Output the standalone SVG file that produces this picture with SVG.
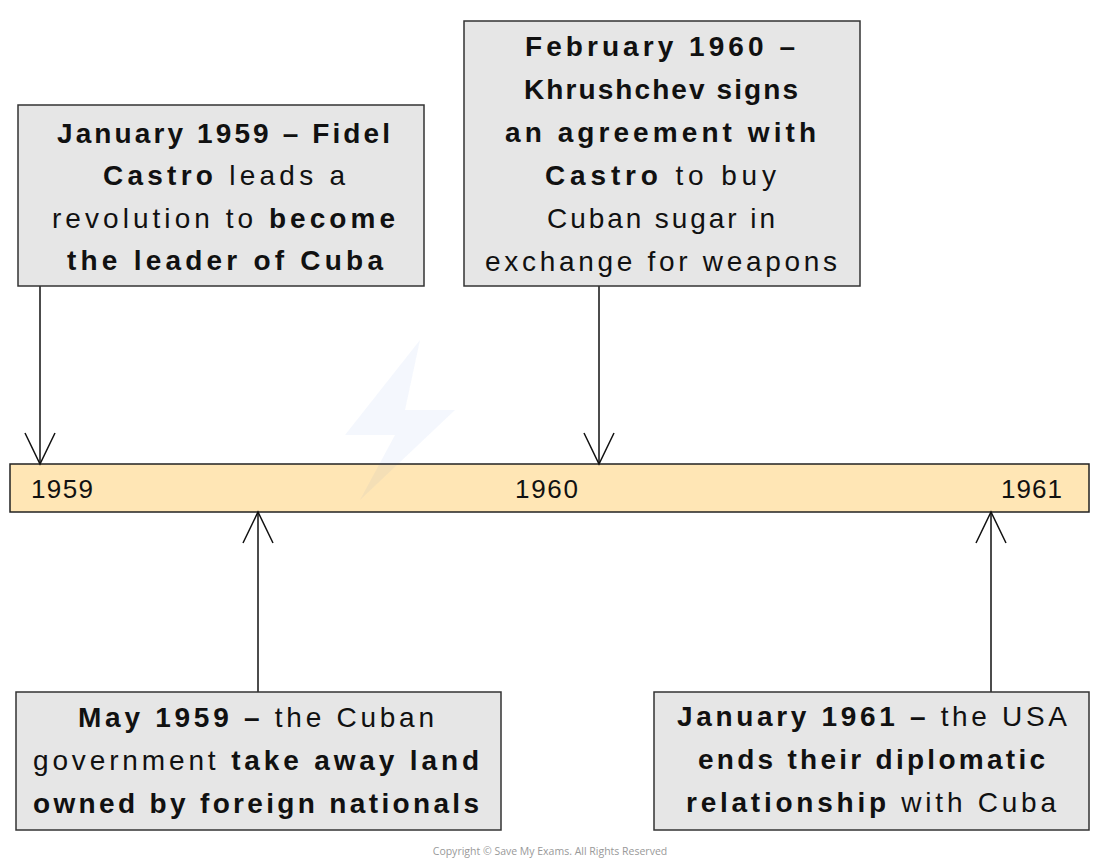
<svg xmlns="http://www.w3.org/2000/svg" width="1100" height="868" viewBox="0 0 1100 868">
<style>
.box{fill:#e6e6e6;stroke:#333;stroke-width:1.5}
.t{font-family:"Liberation Sans",Arial,sans-serif;font-size:28px;fill:#111}
.b{font-weight:bold}
.yr{font-family:"Liberation Sans",Arial,sans-serif;font-size:26px;fill:#111}
.conn{stroke:#111;stroke-width:1.5;fill:none}
</style>
<defs>
<marker id="arr" viewBox="0 0 40 40" markerWidth="40" markerHeight="40" refX="36" refY="20" orient="auto" markerUnits="userSpaceOnUse">
<path d="M5,5 L36,20 L5,35" fill="none" stroke="#111" stroke-width="1.5"/>
</marker>
</defs>
<rect width="1100" height="868" fill="#fff"/>
<g id="timeline">
<rect x="10" y="464" width="1079" height="48" fill="#ffe6b5" stroke="#222" stroke-width="1.5"/>
<text class="yr" x="31" y="498" textLength="62">1959</text>
<text class="yr" x="515" y="498" textLength="63">1960</text>
<text class="yr" x="1001" y="498" textLength="61">1961</text>
</g>
<g id="watermark" opacity="0.05">
<polygon points="420,340 345,435 395,435 360,500 455,410 405,410" fill="#3060d0"/>
</g>
<g id="connectors">
<line class="conn" x1="40" y1="286" x2="40" y2="464" marker-end="url(#arr)"/>
<line class="conn" x1="599" y1="286" x2="599" y2="464" marker-end="url(#arr)"/>
<line class="conn" x1="258" y1="692" x2="258" y2="512" marker-end="url(#arr)"/>
<line class="conn" x1="991" y1="692" x2="991" y2="512" marker-end="url(#arr)"/>
</g>
<g id="node-jan1959">
<rect class="box" x="18" y="105" width="406" height="181"/>
<text class="t" x="57" y="143" textLength="333"><tspan class="b">January 1959 – Fidel</tspan></text>
<text class="t" x="103" y="185" textLength="242"><tspan class="b">Castro</tspan> leads a</text>
<text class="t" x="52" y="228" textLength="343">revolution to <tspan class="b">become</tspan></text>
<text class="t b" x="67" y="270" textLength="316">the leader of Cuba</text>
</g>
<g id="node-feb1960">
<rect class="box" x="464" y="21" width="396" height="265"/>
<text class="t b" x="525" y="56" textLength="270">February 1960 –</text>
<text class="t b" x="524" y="99" textLength="274">Khrushchev signs</text>
<text class="t b" x="505" y="142" textLength="311">an agreement with</text>
<text class="t" x="545" y="185" textLength="231"><tspan class="b">Castro</tspan> to buy</text>
<text class="t" x="547" y="228" textLength="228">Cuban sugar in</text>
<text class="t" x="485" y="271" textLength="352">exchange for weapons</text>
</g>
<g id="node-may1959">
<rect class="box" x="16" y="692" width="485" height="138"/>
<text class="t" x="78" y="727" textLength="356"><tspan class="b">May 1959 –</tspan> the Cuban</text>
<text class="t" x="33" y="770" textLength="446">government <tspan class="b">take away land</tspan></text>
<text class="t b" x="33" y="813" textLength="446">owned by foreign nationals</text>
</g>
<g id="node-jan1961">
<rect class="box" x="654" y="692" width="435" height="138"/>
<text class="t" x="677" y="726" textLength="390"><tspan class="b">January 1961 –</tspan> the USA</text>
<text class="t b" x="698" y="769" textLength="347">ends their diplomatic</text>
<text class="t" x="686" y="812" textLength="370"><tspan class="b">relationship</tspan> with Cuba</text>
</g>
<text x="550" y="855" text-anchor="middle" font-family="'Open Sans',sans-serif" font-size="10.5" fill="#999">Copyright © Save My Exams. All Rights Reserved</text>
</svg>
